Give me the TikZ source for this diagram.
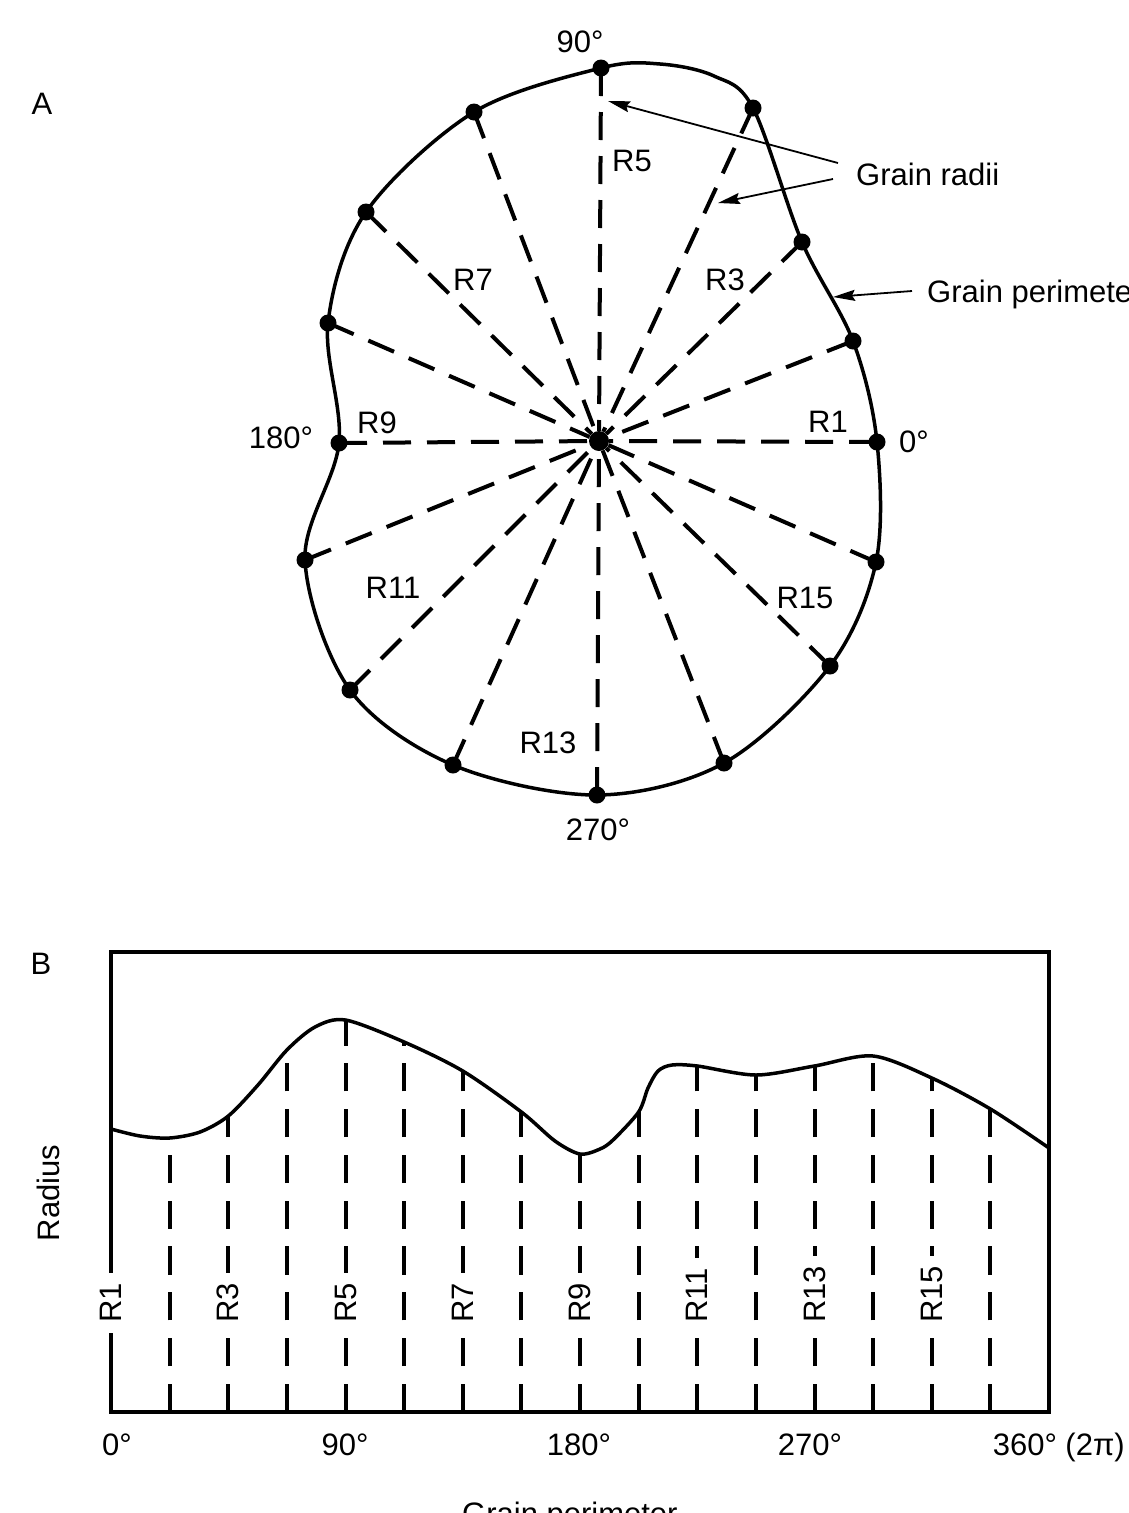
\documentclass[tikz,border=0pt]{standalone}
\usepackage{fontspec}
\setmainfont{Liberation Sans}
\usetikzlibrary{arrows.meta}
\begin{document}
\begin{tikzpicture}[x=1pt,y=-1pt,
  font=\fontsize{31}{37}\selectfont,
  perim/.style={line width=3.5pt, line join=round},
  rad/.style={line width=4pt, dash pattern=on 28pt off 16pt},
  vline/.style={line width=4pt, dash pattern=on 28.3pt off 17.5pt},
  dot/.style={circle, fill=black, inner sep=0pt, minimum size=17pt},
  lbl/.style={inner sep=0pt},
  blab/.style={rotate=90, anchor=west, fill=white, inner xsep=10pt, inner ysep=1pt},
  pointer/.style={line width=1.8pt, -{Stealth[length=22pt,width=11pt,inset=3pt]}},
]
\useasboundingbox (0,0) rectangle (1129,1513);

% ---------------- Panel A ----------------
\node[lbl] (labA) at (42,104) {A};

\draw[perim] plot[smooth cycle, tension=0.55] coordinates {
  (877,442) (853,341) (802,242) (753,108) (714,76) (660,64) (601,68) (474,112)
  (366,212) (328,323) (339,443) (305,560) (350,690) (453,765) (597,795)
  (724,763) (830,666) (876,562)};

\node[circle, fill=black, inner sep=0pt, minimum size=20pt] (C) at (599,441) {};

\foreach \n/\x/\y in {0/877/442, 1/853/341, 2/802/242, 3/753/108, 4/601/68,
  5/474/112, 6/366/212, 7/328/323, 8/339/443, 9/305/560, 10/350/690,
  11/453/765, 12/597/795, 13/724/763, 14/830/666, 15/876/562} {
  \node[dot] (p\n) at (\x,\y) {};
  \draw[rad] (p\n.center) -- (C);
}

\node[lbl] (r1) at (828,422) {R1};
\node[lbl] (r3) at (725,280) {R3};
\node[lbl] (r5) at (632,161) {R5};
\node[lbl] (r7) at (473,280) {R7};
\node[lbl] (r9) at (377,423) {R9};
\node[lbl] (r11) at (393,588) {R11};
\node[lbl] (r13) at (548,743) {R13};
\node[lbl] (r15) at (805,598) {R15};

\node[lbl] (d90) at (580,42) {90°};
\node[lbl] (d0) at (914,442) {0°};
\node[lbl] (d180) at (281,438) {180°};
\node[lbl] (d270) at (598,830) {270°};

\node[lbl, anchor=base west] (gr) at (856,185) {Grain radii};
\node[lbl, anchor=base west] (gp) at (927,302) {Grain perimeter};

\coordinate (gr1) at (838,163);
\coordinate (gr2) at (833,179);
\coordinate (gp1) at (912,291);
\coordinate (t1) at (608,101);
\coordinate (t2) at (718,203);
\coordinate (t3) at (833,297);
\draw[pointer] (gr1) -- (t1);
\draw[pointer] (gr2) -- (t2);
\draw[pointer] (gp1) -- (t3);

% ---------------- Panel B ----------------
\node[lbl] (labB) at (41,964) {B};
\node[lbl, rotate=90] (ylab) at (48,1193) {Radius};

\draw[perim, line join=miter] (111,952) rectangle (1049,1412);

\foreach \k/\yy in {1/1138, 2/1116, 3/1050, 4/1020, 5/1042, 6/1071, 7/1112,
  8/1154, 9/1112, 10/1066, 11/1075, 12/1066, 13/1056, 14/1078, 15/1109} {
  \draw[vline] ({111+58.625*\k},1412) -- ({111+58.625*\k},\yy);
}

\draw[perim] plot[smooth, tension=0.5] coordinates {
  (111,1129) (140,1136) (169.6,1138) (200,1132) (228.3,1116) (258,1085)
  (286.9,1050) (315,1027) (345.5,1020) (404.1,1042) (462.8,1071)
  (521.4,1112) (555,1141) (580,1154) (600,1149) (613,1140) (638.6,1112)
  (648,1088) (658,1071) (672,1065) (697.3,1066) (755.9,1075) (814.5,1066)
  (873.1,1056) (931.8,1078) (990.4,1109) (1049,1148)};

\foreach \k/\t in {0/R1, 2/R3, 4/R5, 6/R7, 8/R9, 10/R11, 12/R13, 14/R15} {
  \node[blab] (b\t) at ({111+58.625*\k},1333) {\t};
}

\node[lbl, anchor=base] (x0) at (117,1455) {0°};
\node[lbl, anchor=base] (x90) at (345,1455) {90°};
\node[lbl, anchor=base] (x180) at (579,1455) {180°};
\node[lbl, anchor=base] (x270) at (810,1455) {270°};
\node[lbl, anchor=base east] (x360) at (1125,1455) {360° (2π)};

\node[lbl, anchor=north west] (xlab) at (462,1502) {Grain perimeter};
\end{tikzpicture}
\end{document}
